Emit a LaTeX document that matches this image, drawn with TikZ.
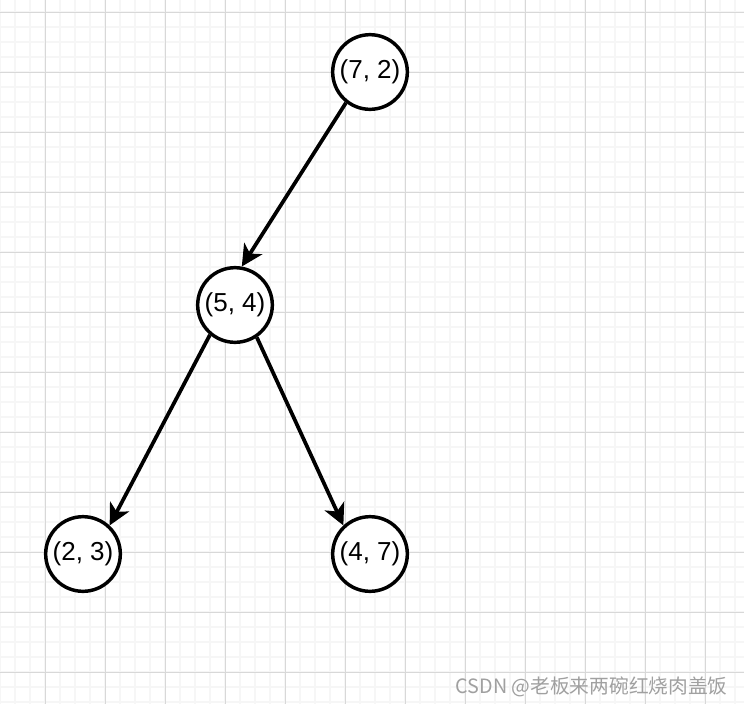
\documentclass[tikz,border=0pt]{standalone}
\usepackage{fontspec}
\setmainfont{Liberation Sans}
\newfontfamily\cjkfont{Noto Sans CJK SC}
\usetikzlibrary{arrows.meta}
\definecolor{minorc}{RGB}{246,246,246}
\definecolor{majorc}{RGB}{216,216,216}
\definecolor{waterc}{RGB}{160,160,160}
\begin{document}
\begin{tikzpicture}[x=0.75pt,y=-0.75pt,
  keynode/.style={circle,draw=black,line width=2.6pt,fill=white,minimum size=56pt,inner sep=0pt,font=\fontsize{19.5}{23}\selectfont},
  edge/.style={line width=2.8pt,-{Stealth[length=16pt,width=16pt,inset=4.5pt]}},
  minorgrid/.style={draw=minorc,line width=1.2pt},
  majorgrid/.style={draw=majorc,line width=0.75pt},
  watermark/.style={anchor=east,text=waterc,inner sep=0pt,font=\cjkfont\fontsize{14.8}{17}\selectfont}]
\useasboundingbox (0,0) rectangle (744,704);
\fill[white] (0,0) rectangle (744,704);
\foreach \x in {0,15,...,735} \draw[minorgrid] (\x,0) -- (\x,704);
\foreach \y in {12,27,...,702} \draw[minorgrid] (0,\y) -- (744,\y);
\foreach \x in {45,105,...,705} \draw[majorgrid] (\x,0) -- (\x,704);
\foreach \y in {12,72,...,672} \draw[majorgrid] (0,\y) -- (744,\y);
\node[keynode] (n72) at (370,72) {(7, 2)};
\node[keynode] (n54) at (235,305) {(5, 4)};
\node[keynode] (n23) at (83,554) {(2, 3)};
\node[keynode] (n47) at (370,554) {(4, 7)};
\draw[edge] (n72.232) -- (n54.80);
\draw[edge] (n54.230) -- (n23.47);
\draw[edge] (n54.304) -- (n47.133);
\node[watermark] (wm) at (728,687) {CSDN @老板来两碗红烧肉盖饭};
\end{tikzpicture}
\end{document}
